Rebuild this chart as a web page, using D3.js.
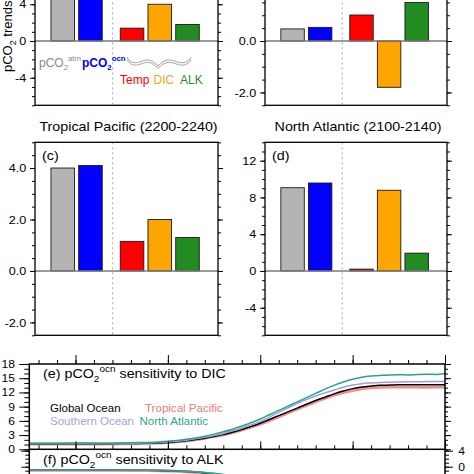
<!DOCTYPE html>
<html><head><meta charset="utf-8">
<script src="https://cdn.jsdelivr.net/npm/d3@7"></script>
<style>
html,body{margin:0;padding:0;background:#fff;overflow:hidden}
svg{display:block;font-family:"Liberation Sans",Arial,Helvetica,sans-serif}
</style></head><body>
<svg id="chart" width="474" height="474"></svg>
<script>
// ---------- DATA ----------
const categories = ["pCO2atm", "pCO2ocn", "Temp", "DIC", "ALK"];
const barPos = [1, 2, 3.5, 4.5, 5.5];
const globalTrends   = [9.6, 9.9, 1.4, 4.0, 1.8];
const southernTrends = [0.47, 0.53, 1.01, -1.80, 1.50];
const tropicalTrends = [4.0, 4.1, 1.15, 2.0, 1.3];
const atlanticTrends = [9.06, 9.57, 0.2, 8.78, 1.94];
const panelTitles = ["", "", "Tropical Pacific (2200-2240)", "North Atlantic (2100-2140)"];
const panelLetters = ["(a)", "(b)", "(c)", "(d)"];
const tickLabelsWide = ["-4", "0", "4", "8", "12"];
const tickLabelsNarrow = ["-2.0", "0.0", "2.0", "4.0"];

const years = [1850,1875,1900,1925,1950,1970,1990,2000,2010,2020,2030,2040,2050,2060,2070,2080,2090,2100,2110,2120,2130,2140,2150,2160,2170,2180,2190,2200,2210,2220,2230,2240,2250,2260,2270,2280,2290,2300];
const dicGlobal   = [1.15,1.15,1.15,1.17,1.2,1.25,1.35,1.45,1.6,1.8,2.05,2.35,2.7,3.1,3.6,4.15,4.8,5.5,6.3,7.1,7.9,8.7,9.5,10.3,11.0,11.7,12.3,12.8,13.15,13.35,13.5,13.55,13.6,13.6,13.6,13.6,13.6,13.6];
const dicTropical = [1.1,1.1,1.1,1.12,1.15,1.2,1.3,1.4,1.55,1.75,2.0,2.3,2.65,3.05,3.5,4.05,4.65,5.3,6.05,6.85,7.65,8.45,9.25,10.0,10.75,11.4,11.95,12.4,12.75,12.95,13.05,13.1,13.1,13.1,13.1,13.05,13.1,13.1];
const dicSouthern = [1.2,1.2,1.2,1.22,1.25,1.3,1.42,1.55,1.7,1.92,2.2,2.52,2.9,3.35,3.9,4.5,5.15,5.9,6.8,7.8,8.75,9.65,10.5,11.25,11.9,12.5,13.1,13.55,13.85,14.0,14.1,14.15,14.2,14.25,14.25,14.3,14.3,14.3];
const dicAtlantic = [1.3,1.3,1.32,1.3,1.35,1.42,1.55,1.68,1.85,2.1,2.4,2.75,3.2,3.7,4.25,4.9,5.6,6.4,7.3,8.2,9.1,10.0,10.9,11.8,12.7,13.5,14.2,14.8,15.2,15.45,15.6,15.7,15.75,15.7,15.8,15.85,15.8,16.0];
const alkGlobal   = [-0.85,-0.85,-0.85,-0.86,-0.88,-0.9,-0.95,-1.0,-1.08,-1.2,-1.35,-1.55,-1.8,-2.1,-2.5,-3.0,-3.6,-4.3,-5.1,-5.9,-6.7,-7.5,-8.3,-9.0,-9.7,-10.3,-10.8,-11.2,-11.5,-11.7,-11.8,-11.85,-11.9,-11.9,-11.9,-11.9,-11.9,-11.9];
const alkTropical = [-0.9,-0.9,-0.9,-0.91,-0.93,-0.96,-1.02,-1.08,-1.17,-1.3,-1.47,-1.7,-1.97,-2.3,-2.72,-3.25,-3.9,-4.6,-5.4,-6.2,-7.0,-7.8,-8.6,-9.3,-10.0,-10.6,-11.1,-11.5,-11.8,-12.0,-12.1,-12.15,-12.2,-12.2,-12.2,-12.2,-12.2,-12.2];
const alkSouthern = [-0.8,-0.8,-0.8,-0.81,-0.83,-0.85,-0.9,-0.95,-1.02,-1.13,-1.27,-1.46,-1.7,-2.0,-2.38,-2.85,-3.4,-4.1,-4.9,-5.7,-6.5,-7.3,-8.1,-8.8,-9.5,-10.1,-10.6,-11.0,-11.3,-11.5,-11.6,-11.65,-11.7,-11.7,-11.7,-11.7,-11.7,-11.7];
const alkAtlantic = [-0.78,-0.78,-0.79,-0.78,-0.8,-0.83,-0.88,-0.93,-1.0,-1.1,-1.24,-1.42,-1.65,-1.95,-2.3,-2.75,-3.3,-3.95,-4.7,-5.5,-6.3,-7.1,-7.9,-8.6,-9.3,-9.9,-10.4,-10.8,-11.1,-11.3,-11.4,-11.45,-11.5,-11.5,-11.5,-11.5,-11.5,-11.5];
const regionNames = ["Global Ocean", "Tropical Pacific", "Southern Ocean", "North Atlantic"];
const eTicks = [0, 3, 6, 9, 12, 15, 18];
const fTicks = [-16, -12, -8, -4, 0, 4];

// ---------- STYLE ----------
const SX = 1.1;
const barColors = ["#b4b4b4", "#0000ff", "#ff0000", "#ffa500", "#228b22"];
const lineColors = {"Global Ocean":"#000000","Tropical Pacific":"#ee7a7a","Southern Ocean":"#9c9ce8","North Atlantic":"#25a58a"};
const legendColors = {"Global Ocean":"#000000","Tropical Pacific":"#e87c7c","Southern Ocean":"#a3a3e6","North Atlantic":"#2fa58c"};

const svg = d3.select("#chart");

function rich(parent, x, y, segs, size, color, anchor, weight, sx, scr) {
  const g = parent.append("g").attr("transform", `translate(${x},${y}) scale(${sx==null?SX:sx},1)`);
  const t = g.append("text").attr("font-size", size).attr("fill", color).attr("text-anchor", anchor || "start");
  if (weight) t.attr("font-weight", weight);
  const sf = scr || 0.7;
  let cur = 0;
  segs.forEach(s => {
    const [str, k] = Array.isArray(s) ? s : [s, ""];
    const target = k === "sub" ? size * 0.3 : k === "sup" ? -size * 0.45 : 0;
    t.append("tspan").attr("dy", target - cur).attr("font-size", k ? size * sf : size).text(str);
    cur = target;
  });
  return t;
}

function styleAxis(g) {
  g.select(".domain").remove();
  g.selectAll("line").attr("stroke", "#000").attr("stroke-width", 1);
  g.selectAll("text").attr("fill", "#000").attr("font-family", "inherit");
}

// ---------- BAR PANELS ----------
const panels = [
  {data: globalTrends,   x0: 35,  x1: 218, y0: -87.6, y1: 105.3, dom: [-7, 14],   maj: [-4,0,4,8,12], labels: tickLabelsWide,   minStep: 1},
  {data: southernTrends, x0: 265, x1: 447, y0: -87.6, y1: 105.3, dom: [-2.5, 5],  maj: [-2,0,2,4],    labels: tickLabelsNarrow, minStep: 0.5},
  {data: tropicalTrends, x0: 35,  x1: 218, y0: 142.3, y1: 335.3, dom: [-2.5, 5],  maj: [-2,0,2,4],    labels: tickLabelsNarrow, minStep: 0.5},
  {data: atlanticTrends, x0: 265, x1: 447, y0: 142.3, y1: 335.3, dom: [-7, 14],   maj: [-4,0,4,8,12], labels: tickLabelsWide,   minStep: 1}
];

panels.forEach((p, i) => {
  const g = svg.append("g");
  const x = d3.scaleLinear().domain([0, 6.6]).range([p.x0, p.x1]);
  const y = d3.scaleLinear().domain(p.dom).range([p.y1, p.y0]);
  const bw = x(0.85) - x(0);
  const minors = d3.range(p.dom[0], p.dom[1] + 1e-9, p.minStep);

  g.append("line").attr("x1", x(2.8)).attr("x2", x(2.8)).attr("y1", p.y0).attr("y2", p.y1)
    .attr("stroke", "#a9a9a9").attr("stroke-width", 1).attr("stroke-dasharray", "2,3");

  g.selectAll("rect.bar").data(p.data).join("rect").attr("class", "bar")
    .attr("x", (d, j) => x(barPos[j]) - bw / 2)
    .attr("width", bw)
    .attr("y", d => Math.min(y(d), y(0)))
    .attr("height", d => Math.abs(y(d) - y(0)))
    .attr("fill", (d, j) => barColors[j])
    .attr("stroke", "#1a1a1a").attr("stroke-width", 0.9);

  g.append("line").attr("x1", p.x0).attr("x2", p.x1).attr("y1", y(0)).attr("y2", y(0))
    .attr("stroke", "#7a7a7a").attr("stroke-width", 1.5);

  const fmtMap = new Map(p.maj.map((v, k) => [v, p.labels[k]]));
  const la = g.append("g").attr("transform", `translate(${p.x0},0)`)
    .call(d3.axisLeft(y).tickValues(p.maj).tickSize(5).tickPadding(3).tickFormat(v => fmtMap.get(v)));
  styleAxis(la);
  la.selectAll("text").attr("font-size", 11.5).attr("transform", `scale(${SX},1)`);
  styleAxis(g.append("g").attr("transform", `translate(${p.x0},0)`)
    .call(d3.axisLeft(y).tickValues(minors).tickSize(3).tickFormat("")));
  styleAxis(g.append("g").attr("transform", `translate(${p.x1},0)`)
    .call(d3.axisRight(y).tickValues(p.maj).tickSize(5).tickFormat("")));
  styleAxis(g.append("g").attr("transform", `translate(${p.x1},0)`)
    .call(d3.axisRight(y).tickValues(minors).tickSize(3).tickFormat("")));

  g.append("rect").attr("x", p.x0).attr("y", p.y0).attr("width", p.x1 - p.x0).attr("height", p.y1 - p.y0)
    .attr("fill", "none").attr("stroke", "#000").attr("stroke-width", 1.3);

  rich(g, p.x0 + 7, p.y0 + 18, [panelLetters[i]], 13, "#000");
  if (panelTitles[i]) rich(g, (p.x0 + p.x1) / 2 + 2, p.y0 - 11, [panelTitles[i]], 13, "#000", "middle");
});

// annotations in panel (a)
rich(svg, 39, 66.5, ["pCO", ["2", "sub"], ["atm", "sup"]], 12, "#8a8a8a", "start", null, 1.0, 0.65);
rich(svg, 82, 66.5, ["pCO", ["2", "sub"], ["ocn", "sup"]], 12, "#0000ff", "start", "bold", 1.0, 0.65);
rich(svg, 120, 84, ["Temp"], 12, "#ff0000", "start", null, 1.0);
rich(svg, 153.5, 84, ["DIC"], 12, "#f5a623", "start", null, 1.0);
rich(svg, 180, 84, ["ALK"], 12, "#2e8b2e", "start", null, 1.0);
[0, 2.4].forEach(off => {
  svg.append("path")
    .attr("d", `M127,${57+off} C130,${63+off} 135,${64+off} 141,${61.5+off} S152,${59+off} 158,${66+off}`
      + ` M191,${57+off} C188,${63+off} 182,${64+off} 176,${61.5+off} S164,${59+off} 158,${66+off}`)
    .attr("fill", "none").attr("stroke", "#8a8a8a").attr("stroke-width", 0.8);
});

// y-axis title
svg.append("text").attr("transform", "translate(12,72) rotate(-90)").attr("font-size", 13).attr("fill", "#000")
  .call(t => {
    t.append("tspan").text("pCO");
    t.append("tspan").attr("dy", 4).attr("font-size", 9).text("2");
    t.append("tspan").attr("dy", -4).text(" trends");
  });

// ---------- TIME SERIES PANELS ----------
const ex0 = 29.3, ex1 = 445, ey0 = 364, ey1 = 449.3;
const xT = d3.scaleLinear().domain([1850, 2300]).range([ex0, ex1]);
const yE = d3.scaleLinear().domain([0, 18]).range([ey1, ey0]);
const yF = d3.scaleLinear().domain([0, 4]).range([466.7, 450.7]);

const defs = svg.append("defs");
defs.append("clipPath").attr("id", "clipE").append("rect").attr("x", ex0).attr("y", ey0).attr("width", ex1 - ex0).attr("height", ey1 - ey0);
defs.append("clipPath").attr("id", "clipF").append("rect").attr("x", ex0).attr("y", ey1).attr("width", ex1 - ex0).attr("height", 60);

const dicSeries = [["Tropical Pacific", dicTropical], ["Global Ocean", dicGlobal], ["Southern Ocean", dicSouthern], ["North Atlantic", dicAtlantic]];
const alkSeries = [["Tropical Pacific", alkTropical], ["Global Ocean", alkGlobal], ["Southern Ocean", alkSouthern], ["North Atlantic", alkAtlantic]];

function drawLines(series, yScale, clip) {
  const g = svg.append("g").attr("clip-path", `url(#${clip})`);
  series.forEach(([name, vals]) => {
    const line = d3.line().x((d, k) => xT(years[k])).y(d => yScale(d)).curve(d3.curveMonotoneX);
    g.append("path").datum(vals).attr("d", line).attr("fill", "none")
      .attr("stroke", lineColors[name])
      .attr("stroke-width", name === "Tropical Pacific" ? 2.8 : 1.5)
      .attr("stroke-opacity", name === "Tropical Pacific" ? 0.85 : 1);
  });
}
drawLines(dicSeries, yE, "clipE");
drawLines(alkSeries, yF, "clipF");

const xMaj = [1900, 2000, 2100, 2200, 2300];
const xMin = d3.range(1860, 2300, 20);
[[xMaj, 9], [xMin, 4]].forEach(([vals, sz]) => {
  styleAxis(svg.append("g").attr("transform", `translate(0,${ey0})`).call(d3.axisTop(xT).tickValues(vals).tickSize(sz).tickFormat("")));
});
[[xMaj, 8], [xMin, 4]].forEach(([vals, sz]) => {
  styleAxis(svg.append("g").attr("transform", `translate(0,${ey1})`).call(d3.axisTop(xT).tickValues(vals).tickSize(sz).tickFormat("")));
});
const eL = svg.append("g").attr("transform", `translate(${ex0},0)`).call(d3.axisLeft(yE).tickValues(eTicks).tickSize(10).tickPadding(3).tickFormat(d3.format("d")));
styleAxis(eL);
eL.selectAll("text").attr("font-size", 11).attr("transform", `scale(${SX},1)`);
styleAxis(svg.append("g").attr("transform", `translate(${ex0},0)`).call(d3.axisLeft(yE).tickValues(d3.range(0, 18.01, 1)).tickSize(5).tickFormat("")));
styleAxis(svg.append("g").attr("transform", `translate(${ex1},0)`).call(d3.axisRight(yE).tickValues(eTicks).tickSize(6).tickFormat("")));
styleAxis(svg.append("g").attr("transform", `translate(${ex1},0)`).call(d3.axisRight(yE).tickValues(d3.range(0, 18.01, 1)).tickSize(3).tickFormat("")));
const fR = svg.append("g").attr("transform", `translate(${ex1},0)`).call(d3.axisRight(yF).tickValues(fTicks).tickSize(8).tickPadding(4).tickFormat(d3.format("d")));
styleAxis(fR);
fR.selectAll("text").attr("font-size", 11).attr("transform", `scale(${SX},1)`);
styleAxis(svg.append("g").attr("transform", `translate(${ex1},0)`).call(d3.axisRight(yF).tickValues(d3.range(-16, 4.01, 1)).tickSize(4).tickFormat("")));
styleAxis(svg.append("g").attr("transform", `translate(${ex0},0)`).call(d3.axisLeft(yF).tickValues(fTicks).tickSize(8).tickFormat("")));
styleAxis(svg.append("g").attr("transform", `translate(${ex0},0)`).call(d3.axisLeft(yF).tickValues(d3.range(-16, 4.01, 1)).tickSize(4).tickFormat("")));

svg.append("rect").attr("x", ex0).attr("y", ey0).attr("width", ex1 - ex0).attr("height", ey1 - ey0)
  .attr("fill", "none").attr("stroke", "#000").attr("stroke-width", 1.5);
svg.append("path").attr("d", `M${ex0},${ey1}V480M${ex1},${ey1}V480`).attr("stroke", "#000").attr("stroke-width", 1.5).attr("fill", "none");

rich(svg, 43, 378, ["(e) pCO", ["2", "sub"], ["ocn", "sup"], " sensitivity to DIC"], 13, "#000");
rich(svg, 43, 463.8, ["(f) pCO", ["2", "sub"], ["ocn", "sup"], " sensitivity to ALK"], 13, "#000");
rich(svg, 50, 411.5, [regionNames[0]], 11, legendColors[regionNames[0]], "start", null, 1.05);
rich(svg, 145, 411.5, [regionNames[1]], 11, legendColors[regionNames[1]], "start", null, 1.05);
rich(svg, 50, 425, [regionNames[2]], 11, legendColors[regionNames[2]], "start", null, 1.05);
rich(svg, 139.5, 425, [regionNames[3]], 11, legendColors[regionNames[3]], "start", null, 1.05);
</script>
</body></html>
